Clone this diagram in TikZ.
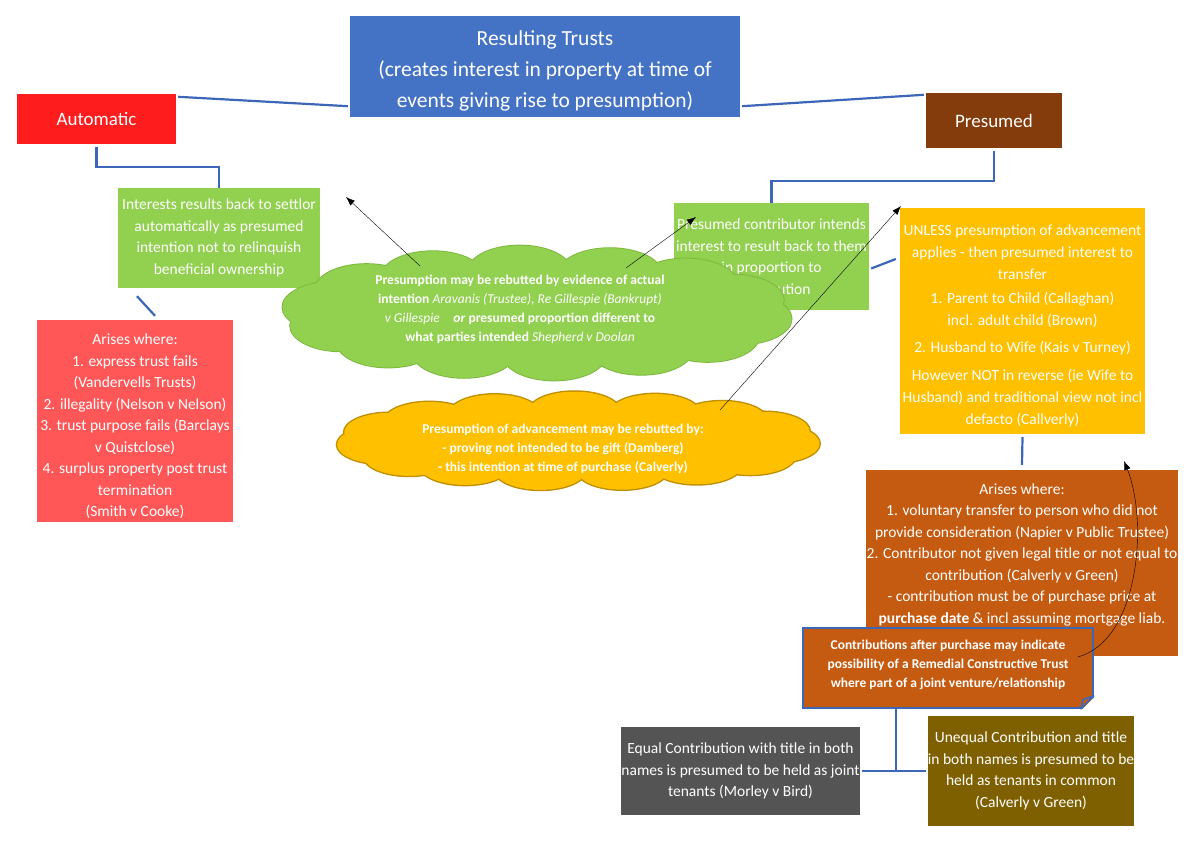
\documentclass[tikz,border=0pt]{standalone}
\usepackage{fontspec}
\setmainfont{Carlito}
\usepackage{tikz}
\usetikzlibrary{arrows.meta, positioning, calc}
\definecolor{trustblue}{HTML}{4472C4}
\definecolor{linkblue}{HTML}{3C67B8}
\definecolor{autored}{HTML}{FF1C1C}
\definecolor{arisered}{HTML}{FF5757}
\definecolor{presbrown}{HTML}{843C0C}
\definecolor{leafgreen}{HTML}{92D050}
\definecolor{leafedge}{HTML}{7CB83E}
\definecolor{amber}{HTML}{FFC000}
\definecolor{amberedge}{HTML}{C08F00}
\definecolor{rust}{HTML}{C55A11}
\definecolor{slate}{HTML}{545454}
\definecolor{mudbrown}{HTML}{7F6000}
\newcommand{\casename}[1]{{\mdseries\itshape #1}}

\begin{document}
\begin{tikzpicture}[
  x=1pt, y=-1pt,
  box/.style={fill=#1, text=white, align=center, inner sep=0pt},
  ttl/.style={font=\fontsize{21.5}{31}\selectfont},
  hd/.style={font=\fontsize{19}{23}\selectfont},
  txt/.style={font=\fontsize{15.5}{21.5}\selectfont},
  puff/.style={font=\bfseries\fontsize{13.5}{19}\selectfont, text=white, align=center},
  link/.style={draw=linkblue, line width=2.2pt},
  ptr/.style={-{Latex[length=9pt,width=6.5pt]}, thin, black},
]
  \useasboundingbox (0,0) rectangle (1200,848);

  % ── Top level ────────────────────────────────────────────────────────
  \node[box=trustblue, ttl, text depth=0pt, minimum width=390, minimum height=101] (title) at (545,66.5)
    {Resulting Trusts\\(creates interest in property at time of\\events giving rise to presumption)\\[-37pt]};
  \node[box=autored, hd, minimum width=159, minimum height=50] (auto) at (96.5,119) {Automatic};
  \node[box=presbrown, hd, minimum width=136, minimum height=55] (pres) at (994,120.5) {Presumed};
  \draw[link] ([shift={(2,3)}]auto.north east) -- ([shift={(-2,-11)}]title.south west);
  \draw[link] ([shift={(2,-11)}]title.south east) -- ([shift={(-2,2)}]pres.north west);

  % ── Automatic branch ─────────────────────────────────────────────────
  \node[box=leafgreen, txt, minimum width=202, minimum height=100] (settlor) at (219,238)
    {Interests results back to settlor\\automatically as presumed\\intention not to relinquish\\beneficial ownership};
  \draw[link] ([yshift=-3pt]auto.south) -- ++(0,20) -| (settlor.north);
  \node[box=arisered, txt, text depth=0pt, minimum width=196, minimum height=202] (autoarise) at (135,421)
    {Arises where:\\1. express trust fails\\(Vandervells Trusts)\\2. illegality (Nelson v Nelson)\\3. trust purpose fails (Barclays\\v Quistclose)\\4. surplus property post trust\\termination\\(Smith v Cooke)\\[-30pt]};
  \draw[link] ([shift={(-82,8)}]settlor.south) -- ([shift={(20,-4)}]autoarise.north);

  % ── Presumed branch ──────────────────────────────────────────────────
  \node[box=leafgreen, txt, minimum width=195, minimum height=107] (contrib) at (771.5,256.5)
    {Presumed contributor intends\\interest to result back to them\\in proportion to\\contribution};
  \draw[link] ([yshift=-3pt]pres.south) -- ++(0,30) -| (contrib.north);
  \node[box=amber, font=\fontsize{15.5}{22}\selectfont, minimum width=245, minimum height=226] (advance) at (1022.5,321)
    {UNLESS presumption of advancement\\applies - then presumed interest to\\transfer\\[2pt]1. Parent to Child (Callaghan)\\incl. adult child (Brown)\\[5pt]2. Husband to Wife (Kais v Turney)\\[6pt]However NOT in reverse (ie Wife to\\Husband) and traditional view not incl\\defacto (Callverly)\\[-29pt]};
  \draw[link] ([shift={(2,12)}]contrib.east) -- ([shift={(-4,-62)}]advance.west);
  \node[box=rust, txt, minimum width=312, minimum height=186] (presarise) at (1022,563)
    {Arises where:\\1. voluntary transfer to person who did not\\provide consideration (Napier v Public Trustee)\\2. Contributor not given legal title or not equal to\\contribution (Calverly v Green)\\- contribution must be of purchase price at\\\textbf{purchase date} \& incl assuming mortgage liab.\\[-2pt]};
  \draw[link] ([yshift=-3pt]advance.south) -- ([yshift=5pt]presarise.north);

  % ── Callout and tenancy ──────────────────────────────────────────────
  \node[box=rust, puff, draw=linkblue, line width=1.6pt, minimum width=290, minimum height=80] (later) at (948,668)
    {Contributions after purchase may indicate\\possibility of a Remedial Constructive Trust\\where part of a joint venture/relationship\\[-11pt]};
  \fill[white] ([shift={(3,3)}]later.south east) -- ([shift={(-13,2)}]later.south east)
    -- ([shift={(2,-13)}]later.south east) -- cycle;
  \draw[linkblue, line width=1.6pt, line join=round] ([shift={(-13,0)}]later.south east)
    -- ([shift={(0,-13)}]later.south east) -- ([shift={(-11,-9)}]later.south east)
    -- cycle;
  \coordinate (arctip) at (1124,461);
  \draw[ptr] ([shift={(-16,-11)}]later.east) .. controls (1140,640) and (1148,520) .. (arctip);

  \node[box=slate, txt, minimum width=239, minimum height=88] (joint) at (740.5,771)
    {Equal Contribution with title in both\\names is presumed to be held as joint\\tenants (Morley v Bird)};
  \node[box=mudbrown, txt, minimum width=206, minimum height=110] (common) at (1031,771)
    {Unequal Contribution and title\\in both names is presumed to be\\held as tenants in common\\(Calverly v Green)};
  \draw[link] ([xshift=-52pt]later.south) -- ([xshift=-52pt]later.south |- joint.east);
  \draw[link] ([xshift=2pt]joint.east) -- ([xshift=-2pt]common.west);

  % ── Rebuttal clouds (puffs round an ellipse) ─────────────────────────
  \foreach \k in {0,...,13}
    \filldraw[fill=leafgreen, draw=leafedge, line width=1pt]
      ({537+205*cos(\k*360/14+8)},{313+42*sin(\k*360/14+8)}) ellipse [x radius=52, y radius=26];
  \foreach \k in {0,...,13}
    \fill[leafgreen] ({537+205*cos(\k*360/14+8)},{313+42*sin(\k*360/14+8)}) ellipse [x radius=51.4, y radius=25.4];
  \fill[leafgreen] (537,313) ellipse [x radius=212, y radius=46];
  \node[puff] (rebut) at (520,309)
    {Presumption may be rebutted by evidence of actual\\intention \casename{Aravanis (Trustee), Re Gillespie (Bankrupt)}\\\casename{v Gillespie}\quad\textit{or} presumed proportion different to\\what parties intended \casename{Shepherd v Doolan}};

  \foreach \k in {0,...,14}
    \filldraw[fill=amber, draw=amberedge, line width=1.5pt]
      ({578+197*cos(\k*24+5)},{441+30*sin(\k*24+5)}) ellipse [x radius=46, y radius=20];
  \foreach \k in {0,...,14}
    \fill[amber] ({578+197*cos(\k*24+5)},{441+30*sin(\k*24+5)}) ellipse [x radius=45.2, y radius=19.2];
  \fill[amber] (578,441) ellipse [x radius=204, y radius=33];
  \node[puff] (advrebut) at (563,449)
    {Presumption of advancement may be rebutted by:\\- proving not intended to be gift (Damberg)\\- this intention at time of purchase (Calverly)};

  \coordinate (tipA) at (346,197);
  \coordinate (tipB) at (696,217);
  \coordinate (tipC) at (901,206);
  \draw[ptr] ([shift={(-100,-43)}]rebut.center) -- (tipA);
  \draw[ptr] ([shift={(106,-41)}]rebut.center) -- (tipB);
  \draw[ptr] ([shift={(157,-39)}]advrebut.center) -- (tipC);
\end{tikzpicture}
\end{document}
